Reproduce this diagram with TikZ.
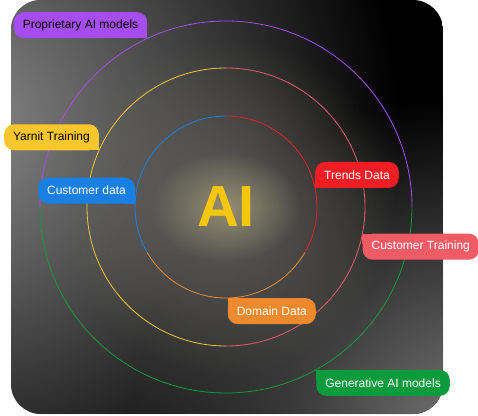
\documentclass[tikz,border=0pt]{standalone}
\usepackage{fontspec}
\setmainfont{Liberation Sans}
\usetikzlibrary{calc,positioning,fadings}

\definecolor{cpurple}{HTML}{A64DF0}
\definecolor{cyellow}{HTML}{F9C62D}
\definecolor{cblue}{HTML}{1A7FE3}
\definecolor{cred}{HTML}{F01D25}
\definecolor{cpink}{HTML}{F15B66}
\definecolor{corange}{HTML}{EE8A2D}
\definecolor{cgreen}{HTML}{0B9B3C}
\definecolor{bgleft}{HTML}{8A8A8A}
\definecolor{bgright}{HTML}{787878}
\definecolor{cglow}{HTML}{6C6A64}
\definecolor{cwarm}{HTML}{A89E7A}
\definecolor{cgold}{HTML}{F4C70E}

\tikzfading[name=softfade, inner color=transparent!0, outer color=transparent!100]
\tikzfading[name=glowfade, inner color=transparent!25, outer color=transparent!100]

\begin{document}
\begin{tikzpicture}[
    x=1pt, y=1pt,
    ring/.style={line width=0.8pt},
    tag/.style={rounded corners=10pt, minimum height=26pt, inner xsep=9pt,
        font=\fontsize{12}{14}\selectfont},
    propbox/.style={fill=cpurple, text=black},
    yarnbox/.style={fill=cyellow, text=black},
    custbox/.style={fill=cblue, text=white},
    trendbox/.style={fill=cred, text=white},
    ctrainbox/.style={fill=cpink, text=white},
    domainbox/.style={fill=corange, text=white},
    genbox/.style={fill=cgreen, text=white},
    aitext/.style={text=cgold, font=\fontsize{58}{60}\selectfont\bfseries}
]
    \useasboundingbox (0,0) rectangle (478,415);
    \coordinate (ctr) at (226,208);

    \begin{scope}
        \clip[rounded corners=30pt] (11,1) rectangle (443,415);
        \fill[black] (11,1) rectangle (443,415);
        \fill[bgleft, path fading=softfade] (-40,290) circle (440);
        \fill[bgright, path fading=softfade] (470,-20) circle (340);
        \fill[cglow, path fading=glowfade] (ctr) circle (170);
        \fill[cwarm, path fading=glowfade] (ctr) ellipse (75 and 55);
    \end{scope}

    \foreach \r/\a/\b/\c in {91/90/210/cblue, 91/210/330/corange, 91/330/450/cred,
        139/90/270/cyellow, 139/270/450/cpink, 186/0/180/cpurple, 186/180/360/cgreen}
        \draw[ring, \c] ([shift={(\a:\r)}]ctr) arc[start angle=\a, end angle=\b, radius=\r];

    \node[aitext] (ai) at (ctr) {AI};

    \foreach \nm/\ang/\rad/\an/\dx/\dy/\txt in {
        propbox/115/186/south east/-10/10/Proprietary AI models,
        yarnbox/156/139/south east/-10/10/Yarnit Training,
        custbox/178/91/south east/-10/10/Customer data,
        trendbox/12/91/south west/10/10/Trends Data,
        ctrainbox/-11/139/north west/10/-10/Customer Training,
        domainbox/-89/91/north west/10/-10/Domain Data,
        genbox/-61/186/north west/10/-10/Generative AI models}
    {
        \coordinate (p-\nm) at ($(ctr)+(\ang:\rad)$);
        \fill[\nm] (p-\nm) rectangle ++(\dx,\dy);
        \node[tag, \nm, anchor=\an] (t-\nm) at (p-\nm) {\txt};
    }
\end{tikzpicture}
\end{document}
